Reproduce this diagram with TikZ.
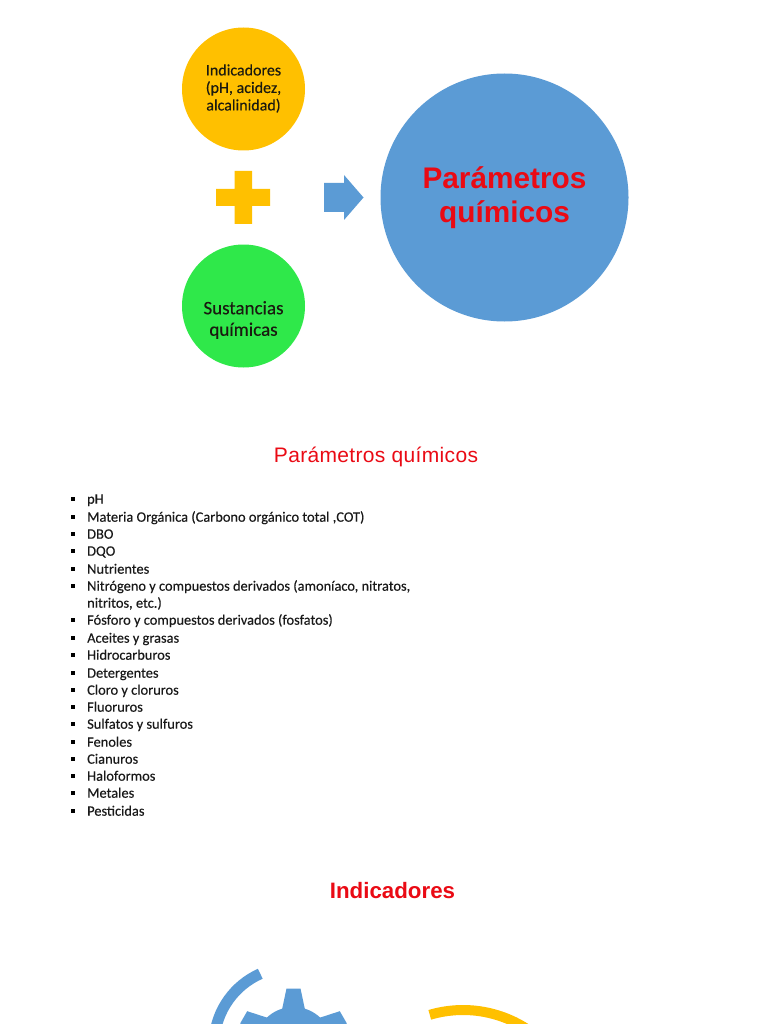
\documentclass[tikz,border=0pt]{standalone}
\usepackage{fontspec}
\setmainfont{Carlito}
\newfontfamily\arialf{Liberation Sans}
\newfontfamily\titlef[LetterSpace=1.6]{Liberation Sans}
\newfontfamily\heavyf[FakeBold=0.25]{Carlito}
\definecolor{orangeC}{HTML}{FFC000}
\definecolor{greenC}{HTML}{2FE84A}
\definecolor{blueC}{HTML}{5B9BD5}
\definecolor{redT}{HTML}{EA0A14}
\definecolor{darkT}{HTML}{1A1A10}
\begin{document}
\begin{tikzpicture}[x=1pt,y=-1pt,
  disc/.style={circle,inner sep=0pt,align=center},
  smalltxt/.style={inner sep=0pt,align=center,font=\heavyf\fontsize{16}{17.5}\selectfont,text=darkT},
  midtxt/.style={inner sep=0pt,align=center,font=\heavyf\fontsize{19}{21.5}\selectfont,text=darkT},
  bigtxt/.style={font=\arialf\bfseries\fontsize{29.8}{34.5}\selectfont,text=redT,align=center},
  listitem/.style={anchor=base west,inner sep=0pt,font=\heavyf\fontsize{14.4}{16}\selectfont,text=black!90},
  bulletmark/.style={fill=black,inner sep=0pt,minimum size=3.8pt},
  shapefill/.style={fill=blueC,draw=none}]
\useasboundingbox (0,0) rectangle (768,1024);
\clip (0,0) rectangle (768,1024);
\fill[white] (0,0) rectangle (768,1024);
\node[disc,fill=orangeC,minimum size=123pt] (ind) at (243.5,89) {};
\node[smalltxt] (indl) at (243.5,88.5) {Indicadores\\(pH, acidez,\\alcalinidad)};
\node[disc,fill=greenC,minimum size=123pt] (sus) at (243.5,306) {};
\node[midtxt] (susl) at (243.5,320) {Sustancias\\químicas};
\node[disc,fill=blueC,minimum size=248pt,bigtxt] (par) at (504.5,197.5) {Parámetros\\químicos};
\fill[orangeC] (234.5,171) -- (252,171) -- (252,189) -- (270,189) -- (270,206) -- (252,206) -- (252,224) -- (234.5,224) -- (234.5,206) -- (216,206) -- (216,189) -- (234.5,189) -- cycle;
\fill[shapefill] (324,183) -- (344,183) -- (344,175) -- (363.5,197.5) -- (344,220) -- (344,212) -- (324,212) -- cycle;
\node[font=\titlef\fontsize{21}{24}\selectfont,text=redT] (t1) at (376,456.5) {Parámetros químicos};
\foreach \yy/\txt [count=\i] in {
 503.7/pH,
 521.7/Materia Orgánica (Carbono orgánico total {,}COT),
 538.7/DBO,
 555.7/DQO,
 573.7/Nutrientes,
 590.7/Nitrógeno y compuestos derivados (amoníaco{,} nitratos{,},
 624.7/Fósforo y compuestos derivados (fosfatos),
 642.7/Aceites y grasas,
 659.7/Hidrocarburos,
 677.7/Detergentes,
 694.7/Cloro y cloruros,
 711.7/Fluoruros,
 728.7/Sulfatos y sulfuros,
 746.7/Fenoles,
 763.7/Cianuros,
 780.7/Haloformos,
 797.7/Metales,
 815.7/Pesticidas}{
  \node[bulletmark] (b\i) at (73,\yy-5) {};
  \node[listitem] (l\i) at (87,\yy) {\txt};
}
\node[listitem] (l6b) at (87,607.7) {nitritos, etc.)};
\node[font=\arialf\bfseries\fontsize{22.3}{24}\selectfont,text=redT] (t2) at (392.5,891) {Indicadores};
% decorative arcs and gear
\draw[blueC,line width=11pt] (292,1045) ++(-114:78) arc[start angle=-114,end angle=-175,radius=78];
\draw[orangeC,line width=10pt] (463,1127) ++(-106.5:117) arc[start angle=-106.5,end angle=-50,radius=117];
\fill[blueC] (293.5,1046) circle[radius=39];
\foreach \a in {0,60,-60}{
  \fill[blueC,rotate around={\a:(293.5,1046)}] (281.5,1012) -- (286.5,988.5) -- (300.5,988.5) -- (305.5,1012) -- cycle;
}
\end{tikzpicture}
\end{document}
